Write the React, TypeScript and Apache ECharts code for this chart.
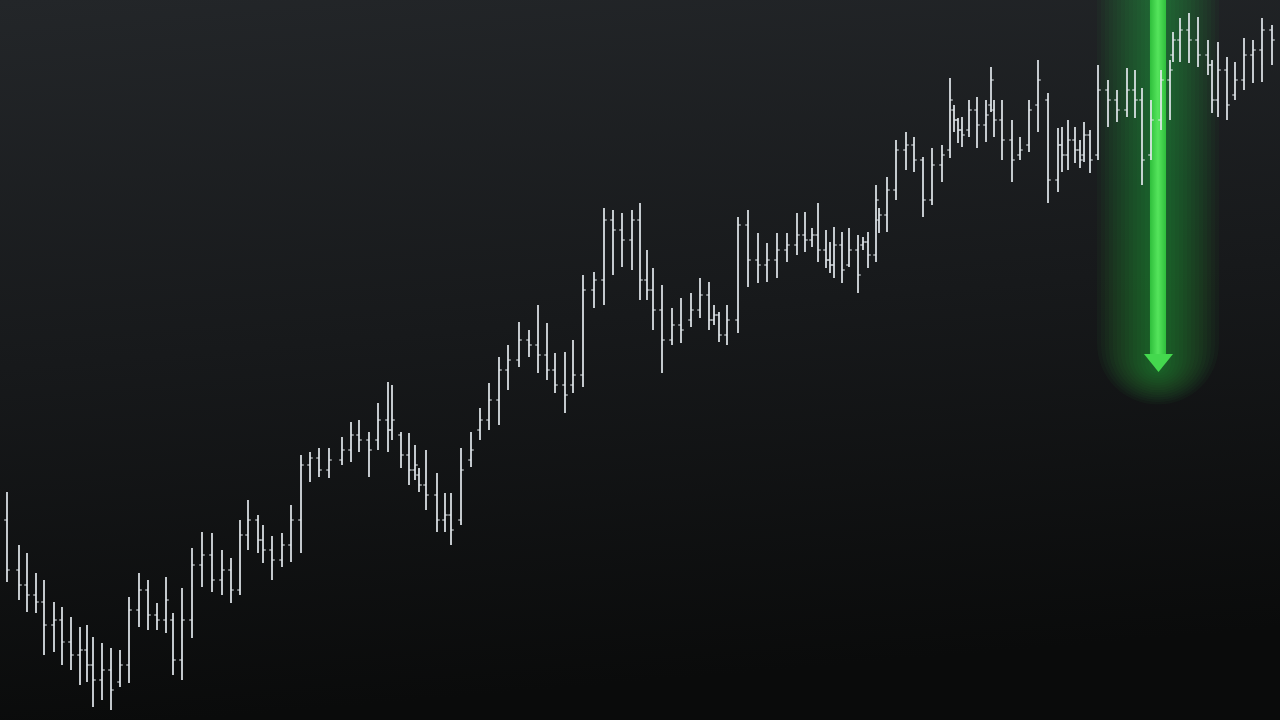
import React, { useEffect, useRef } from "react";
import * as echarts from "echarts";

// Bar times (session minute index)
const times = [
  7, 19, 27, 36, 44, 54, 62, 71, 80, 87, 93, 102, 111, 120, 129, 139, 148, 157,
  166, 173, 182, 192, 202, 212, 222, 231, 240, 248, 258, 263, 272, 282, 291, 301, 310, 319,
  329, 342, 351, 359, 369, 378, 388, 392, 401, 409, 415, 419, 426, 437, 445, 451, 461, 471, 480,
  489, 499, 508, 519, 529, 538, 547, 555, 565, 573, 583, 594, 604, 613, 622, 632, 640,
  647, 653, 662, 672, 681, 691, 700, 709, 714, 719, 727, 738, 748, 758, 767, 777, 787, 797,
  805, 812, 818, 826, 830, 834, 842, 849, 858, 863, 868, 876, 879, 887, 896, 906, 914, 923, 932, 942, 950, 954, 958,
  962, 969, 977, 986, 991, 994, 1002, 1012, 1020, 1029, 1038, 1048, 1058, 1062, 1068, 1075, 1080, 1084, 1090, 1098, 1108, 1117,
  1127, 1135, 1142, 1151, 1161, 1170, 1173, 1180, 1189, 1198, 1208, 1212, 1218, 1227, 1235, 1244, 1253, 1262, 1272,
];

const highs = [
  228, 175, 167, 147, 140, 118, 113, 103, 93, 95, 83, 77, 72, 70, 123, 147, 140, 117,
  143, 107, 132, 172, 188, 187, 170, 162, 200, 220, 205, 195, 184, 187, 215, 265, 268, 272,
  272, 283, 298, 300, 288, 317, 338, 335, 288, 287, 275, 252, 270, 247, 227, 227, 272, 288, 312,
  337, 363, 375, 398, 390, 415, 397, 367, 368, 380, 445, 448, 512, 510, 507, 510, 517,
  470, 452, 435, 412, 422, 427, 442, 438, 415, 408, 415, 503, 510, 487, 477, 487, 487, 507,
  508, 492, 517, 490, 478, 493, 488, 492, 485, 483, 488, 535, 512, 543, 580, 588, 583, 563, 572, 575, 642, 615, 602,
  603, 620, 623, 620, 653, 620, 620, 600, 583, 620, 660, 627, 592, 593, 600, 593, 580, 598, 590, 655, 640, 630,
  652, 650, 632, 620, 650, 660, 688, 702, 707, 703, 680, 660, 678, 663, 658, 682, 680, 702, 695,
];

const lows = [
  138, 120, 108, 107, 65, 68, 55, 50, 35, 38, 13, 20, 10, 33, 37, 93, 90, 90,
  87, 45, 40, 82, 133, 128, 125, 117, 125, 170, 167, 157, 140, 153, 158, 167, 238, 243,
  242, 255, 258, 268, 243, 270, 268, 280, 252, 235, 240, 228, 210, 188, 188, 175, 195, 253, 280,
  290, 295, 330, 353, 363, 347, 340, 327, 307, 327, 333, 412, 415, 445, 453, 450, 420,
  420, 390, 347, 375, 377, 393, 402, 390, 395, 378, 375, 387, 433, 437, 438, 442, 458, 465,
  468, 473, 458, 452, 447, 442, 437, 453, 427, 470, 452, 458, 487, 488, 520, 550, 548, 503, 515, 538, 562, 588, 577,
  573, 583, 572, 578, 608, 583, 560, 538, 560, 568, 588, 517, 528, 548, 550, 557, 552, 558, 547, 560, 593, 598,
  603, 602, 535, 560, 590, 600, 658, 658, 657, 653, 645, 607, 603, 600, 620, 630, 637, 638, 655,
];

const opens = [
  200, 150, 135, 125, 118, 95, 100, 78, 65, 70, 55, 40, 50, 38, 55, 110, 130, 105,
  100, 100, 60, 100, 155, 165, 140, 150, 130, 185, 200, 180, 170, 160, 175, 200, 255, 262,
  250, 260, 270, 285, 280, 280, 300, 290, 285, 265, 250, 245, 235, 225, 200, 205, 200, 260, 290,
  300, 320, 350, 360, 380, 375, 365, 350, 335, 335, 345, 430, 440, 500, 490, 480, 500,
  440, 430, 410, 380, 395, 400, 410, 425, 400, 405, 385, 400, 495, 460, 455, 460, 470, 475,
  485, 480, 485, 470, 460, 455, 475, 455, 470, 475, 478, 465, 500, 505, 530, 570, 575, 560, 520, 555, 570, 610, 600,
  590, 590, 610, 595, 615, 610, 600, 580, 565, 575, 615, 620, 540, 575, 565, 580, 570, 565, 585, 565, 630, 620,
  610, 630, 620, 565, 600, 640, 665, 680, 690, 680, 665, 655, 620, 650, 625, 640, 665, 670, 690,
];

const closes = [
  150, 135, 125, 118, 95, 100, 78, 65, 70, 55, 40, 50, 30, 55, 110, 130, 105, 100,
  120, 60, 100, 155, 165, 140, 150, 130, 185, 200, 180, 170, 160, 175, 200, 255, 262, 250,
  260, 270, 285, 280, 270, 300, 290, 300, 265, 250, 255, 235, 225, 200, 205, 190, 250, 270, 300,
  320, 350, 360, 380, 375, 365, 350, 335, 325, 345, 430, 440, 500, 490, 480, 500, 440,
  430, 410, 380, 395, 390, 410, 425, 400, 405, 385, 400, 495, 460, 455, 460, 470, 475, 485,
  480, 485, 470, 460, 455, 475, 450, 470, 445, 478, 465, 520, 505, 530, 570, 575, 560, 520, 555, 565, 620, 600, 590,
  585, 610, 595, 605, 640, 600, 580, 560, 570, 610, 640, 540, 575, 565, 580, 570, 560, 585, 560, 630, 620, 610,
  630, 620, 560, 600, 640, 650, 680, 690, 680, 665, 655, 620, 650, 615, 640, 665, 670, 690, 680,
];

const axisRange = { xMin: 0, xMax: 1280, yMin: 0, yMax: 720 };

export default function App() {
  const ref = useRef<HTMLDivElement>(null);

  useEffect(() => {
    if (!ref.current) return;
    const chart = echarts.init(ref.current, null, { renderer: "svg" });

    const data = times.map((t, i) => [t, opens[i], closes[i], lows[i], highs[i]]);

    const barColor = "rgba(225,230,235,0.86)";

    // soft glow made of stacked rounded translucent rects
    const glowLayers: any[] = [];
    for (let k = 0; k < 14; k++) {
      const w = 18 + k * 8;
      glowLayers.push({
        type: "rect",
        shape: {
          x: 1158 - w / 2,
          y: -80,
          width: w,
          height: 80 + 368 + w * 0.3,
          r: w / 2,
        },
        style: { fill: "rgba(45,212,65,0.04)" },
      });
    }

    chart.setOption({
      animation: false,
      backgroundColor: {
        type: "linear",
        x: 0,
        y: 0,
        x2: 0.15,
        y2: 1,
        colorStops: [
          { offset: 0, color: "#232629" },
          { offset: 0.5, color: "#17191b" },
          { offset: 1, color: "#0a0b0b" },
        ],
      },
      grid: { left: 0, right: 0, top: 0, bottom: 0 },
      xAxis: {
        type: "value",
        min: axisRange.xMin,
        max: axisRange.xMax,
        show: false,
      },
      yAxis: {
        type: "value",
        min: axisRange.yMin,
        max: axisRange.yMax,
        show: false,
      },
      series: [
        {
          type: "custom",
          data,
          encode: { x: 0, y: [1, 2, 3, 4] },
          renderItem: (params: any, api: any) => {
            const t = api.value(0);
            const pO = api.coord([t, api.value(1)]);
            const pC = api.coord([t, api.value(2)]);
            const pL = api.coord([t, api.value(3)]);
            const pH = api.coord([t, api.value(4)]);
            return {
              type: "group",
              children: [
                {
                  type: "rect",
                  shape: { x: pH[0] - 1, y: pH[1], width: 2, height: pL[1] - pH[1] },
                  style: { fill: barColor },
                },
                {
                  type: "rect",
                  shape: { x: pO[0] - 2.8, y: pO[1] - 0.6, width: 2.8, height: 1.2 },
                  style: { fill: barColor },
                },
                {
                  type: "rect",
                  shape: { x: pC[0], y: pC[1] - 0.6, width: 2.8, height: 1.2 },
                  style: { fill: barColor },
                },
              ],
            };
          },
        },
      ],
      graphic: [
        {
          type: "group",
          z: 100,
          children: [
            ...glowLayers,
            {
              type: "rect",
              shape: { x: 1150, y: -10, width: 16, height: 366 },
              style: {
                fill: {
                  type: "linear",
                  x: 0,
                  y: 0,
                  x2: 1,
                  y2: 0,
                  colorStops: [
                    { offset: 0, color: "#2fbf3c" },
                    { offset: 0.5, color: "#55e45c" },
                    { offset: 1, color: "#2fbf3c" },
                  ],
                },
              },
            },
            {
              type: "polygon",
              shape: {
                points: [
                  [1144, 354],
                  [1173, 354],
                  [1158.5, 372],
                ],
              },
              style: { fill: "#44d84e" },
            },
          ],
        },
      ],
    });

    return () => chart.dispose();
  }, []);

  return (
    <div
      ref={ref}
      style={{ position: "fixed", left: 0, top: 0, width: 1280, height: 720 }}
    />
  );
}
